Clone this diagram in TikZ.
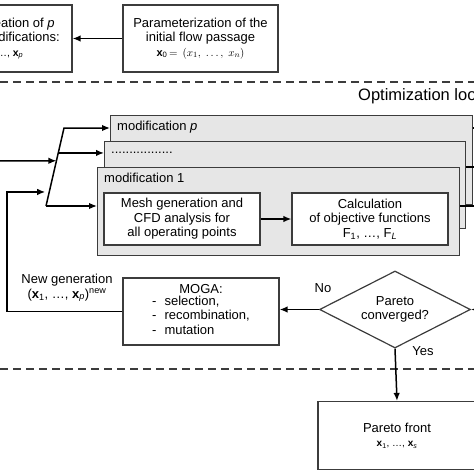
\documentclass[tikz,border=0pt]{standalone}
\usepackage{fontspec}
\setmainfont{Liberation Sans}
\usetikzlibrary{arrows.meta,shapes.geometric,calc}
\definecolor{boxline}{HTML}{3C3C3C}
\definecolor{modfill}{HTML}{E6E6E6}
\tikzset{
  procbox/.style={draw=boxline,line width=1.2pt,fill=white,minimum width=156pt,minimum height=52pt,align=center,inner sep=2pt,font=\fontsize{13}{14.5}\selectfont},
  modbox/.style={draw=boxline,line width=1.2pt,fill=modfill,anchor=north west,minimum width=362pt,minimum height=89pt},
  modlabel/.style={anchor=west,inner sep=0pt,font=\fontsize{13}{14.5}\selectfont},
  txt/.style={align=center,inner sep=0pt,font=\fontsize{13}{14.5}\selectfont},
  arr/.style={-{Latex[length=8pt,width=6.5pt]},line width=1.5pt},
  exit/.style={line width=1.3pt},
  sepline/.style={dash pattern=on 8pt off 5pt,line width=1.5pt,boxline}
}
\begin{document}
\begin{tikzpicture}[x=1pt,y=-1pt]
    \useasboundingbox (0,0) rectangle (474,474);
    % before the loop
    \node[procbox,minimum width=104pt,minimum height=67pt,align=left] (gen) at (20,38.5) {Creation of \textit{p}\\modifications:\\{\fontsize{10.5}{12}\selectfont\textbf{x}\textsubscript{1}, …, \textbf{x}\textsubscript{\textit{p}}}};
    \node[procbox,minimum width=155pt,minimum height=67pt] (param) at (200.5,38.5) {Parameterization of the\\initial flow passage\\{\fontsize{11}{13}\selectfont\textbf{x}\textsubscript{0}$\,=\,(x_1,\ \ldots,\ x_n)$}};
    \draw[arr] (param.west) -- (gen.east);
    \coordinate (sepAl) at (0,82);
    \coordinate (sepAr) at (474,82);
    \draw[sepline] (sepAl) -- (sepAr);
    \node[anchor=west,inner sep=0pt,font=\fontsize{16.5}{18}\selectfont] (optloop) at (358,96) {Optimization loop};
    % modifications
    \node[modbox] (modp) at (110,115) {};
    \node[modbox,minimum width=361pt,minimum height=87pt] (moddots) at (104,141) {};
    \node[modbox,minimum height=88pt] (mod1) at (97,167) {};
    \node[modlabel] (labp) at (117,127) {modification \textit{p}};
    \node[modlabel] (labdots) at (111,153) {.................};
    \node[modlabel] (lab1) at (104,178) {modification 1};
    \node[procbox] (mesh) at (182,219) {Mesh generation and\\CFD analysis for\\all operating points};
    \node[procbox] (calc) at (370,219) {Calculation\\of objective functions\\F\textsubscript{1}, …, F\textsubscript{\textit{L}}};
    \draw[arr] (mesh.east) -- (calc.west);
    \coordinate (outp) at (476,128);
    \coordinate (outdots) at (476,167);
    \coordinate (out1) at (476,206);
    \draw[exit] (modp.east |- outp) -- (outp);
    \draw[exit] (moddots.east |- outdots) -- (outdots);
    \draw[exit] (mod1.east |- out1) -- (out1);
    % fan into the modifications
    \coordinate (fanbot) at (46,206);
    \coordinate (fantop) at (64,128);
    \coordinate (fanmid) at ($(fanbot)!0.68!(fantop)$);
    \coordinate (fanin) at ($(fanbot)!0.58!(fantop)$);
    \coordinate (fanback) at ($(fanbot)!0.18!(fantop)$);
    \coordinate (inleft) at (-4,161);
    \draw[arr] (fanbot) -- (fantop) -- (modp.west |- fantop);
    \draw[arr] (fanmid) -- (moddots.west |- fanmid);
    \draw[arr] (fanbot) -- (mod1.west |- fanbot);
    \draw[arr] (inleft) -- (fanin);
    % selection
    \node[procbox,minimum height=67pt] (moga) at (201,311.5) {MOGA:\\\begin{tabular}{@{}l@{\hspace{8pt}}l@{}}-&selection,\\-&recombination,\\-&mutation\end{tabular}};
    \node[diamond,draw=boxline,line width=1.2pt,aspect=2,inner sep=0pt,minimum width=151pt,minimum height=77pt,align=center,font=\fontsize{13}{14.5}\selectfont] (pareto) at (395,309.5) {Pareto\\converged?};
    \node[txt] (newgen) at (67,288) {New generation\\(\textbf{x}\textsubscript{1}, …, \textbf{x}\textsubscript{\textit{p}})\textsuperscript{new}};
    \coordinate (loopx) at (7,300);
    \draw[arr,shorten >=4pt] (moga.west) -- (moga.west -| loopx) |- (fanback);
    \draw[arr] (pareto.west) -- (moga.east |- pareto.west);
    \node[txt] (no) at (323,288) {No};
    \coordinate (convin) at (482,309.5);
    \draw[arr] (convin) -- (pareto.east);
    % after the loop
    \coordinate (sepBl) at (0,369);
    \coordinate (sepBr) at (474,369);
    \draw[sepline] (sepBl) -- (sepBr);
    \node[procbox,minimum width=158pt,minimum height=68pt] (front) at (397,435.5) {Pareto front\\{\fontsize{10}{11}\selectfont\textbf{x}\textsubscript{1}, …, \textbf{x}\textsubscript{\textit{s}}}};
    \draw[arr] (pareto.south) -- (front.north);
    \node[txt] (yes) at (423,351) {Yes};
\end{tikzpicture}
\end{document}
